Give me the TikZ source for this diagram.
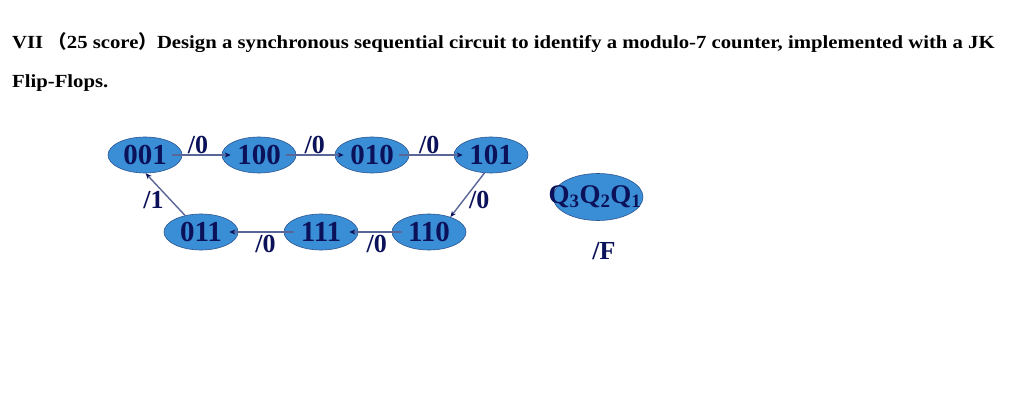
\documentclass[tikz,border=0pt]{standalone}
\usepackage{fontspec}
\setmainfont{Liberation Serif}
\newfontfamily\titlefont[FakeStretch=1.12]{Liberation Serif}
\newfontfamily\cjk{Noto Sans CJK SC}
\usetikzlibrary{shapes.geometric,arrows.meta}
\definecolor{stfill}{RGB}{58,142,214}
\definecolor{stdraw}{RGB}{45,85,145}
\definecolor{navy}{RGB}{12,18,90}
\definecolor{arrline}{RGB}{90,102,152}
\tikzset{
  state/.style={ellipse, fill=stfill, draw=stdraw, semithick, inner sep=0pt,
    minimum width=74pt, minimum height=36pt, text=navy,
    font=\fontsize{29}{30}\selectfont\bfseries},
  trans/.style={draw=arrline, line width=1.4pt, -{Stealth[length=6pt,width=5pt,color=navy]}},
  lbl/.style={text=navy, inner sep=1pt, font=\fontsize{26}{27}\selectfont\bfseries}
}
\begin{document}
\begin{tikzpicture}[x=1pt,y=-1pt]
    \useasboundingbox[fill=white] (0,0) rectangle (1032,414);
    \node[anchor=base west, inner sep=0pt, font=\titlefont\fontsize{18.5}{20}\selectfont\bfseries] (title) at (12,49)
        {VII {\cjk （}25 score{\cjk ）}Design a synchronous sequential circuit to identify a modulo-7 counter, implemented with a JK};
    \node[anchor=base west, inner sep=0pt, font=\titlefont\fontsize{18.5}{20}\selectfont\bfseries] (title2) at (12,88) {Flip-Flops.};
	\node[state] (s001) at (145,155) {001};
	\node[state] (s100) at (259,155) {100};
	\node[state] (s010) at (372,155) {010};
	\node[state] (s101) at (491,155) {101};
	\node[state] (s011) at (201,232) {011};
	\node[state] (s111) at (321,232) {111};
	\node[state] (s110) at (429,232) {110};
    \node[state, minimum width=90pt, minimum height=47pt] (key) at (598,197) {};
    \node[text=navy, inner sep=0pt, font=\fontsize{27}{28}\selectfont\bfseries] (keytext) at (595,197) {Q\textsubscript{3}Q\textsubscript{2}Q\textsubscript{1}};
    \node[lbl] (keyout) at (604,251) {/F};
    \draw[trans, shorten <=-10pt, shorten >=-9pt] (s001.east) -- node[lbl, above, pos=0.4] (l1) {/0} (s100.west);
    \draw[trans, shorten <=-10pt, shorten >=-9pt] (s100.east) -- node[lbl, above, pos=0.48] (l2) {/0} (s010.west);
    \draw[trans, shorten <=-10pt, shorten >=-9pt] (s010.east) -- node[lbl, above, pos=0.45] (l3) {/0} (s101.west);
    \draw[trans] (s101.250) -- node[lbl, right, yshift=-5pt] (l4) {/0} (s110.35);
    \draw[trans, shorten <=-10pt, shorten >=-9pt] (s110.west) -- node[lbl, below, pos=0.45, inner sep=3pt] (l5) {/0} (s111.east);
    \draw[trans, shorten <=-10pt, shorten >=-9pt] (s111.west) -- node[lbl, below, pos=0.4, inner sep=3pt] (l6) {/0} (s011.east);
    \draw[trans] (s011.134) -- node[lbl, left, yshift=-6pt] (l7) {/1} (s001.272);
\end{tikzpicture}
\end{document}
